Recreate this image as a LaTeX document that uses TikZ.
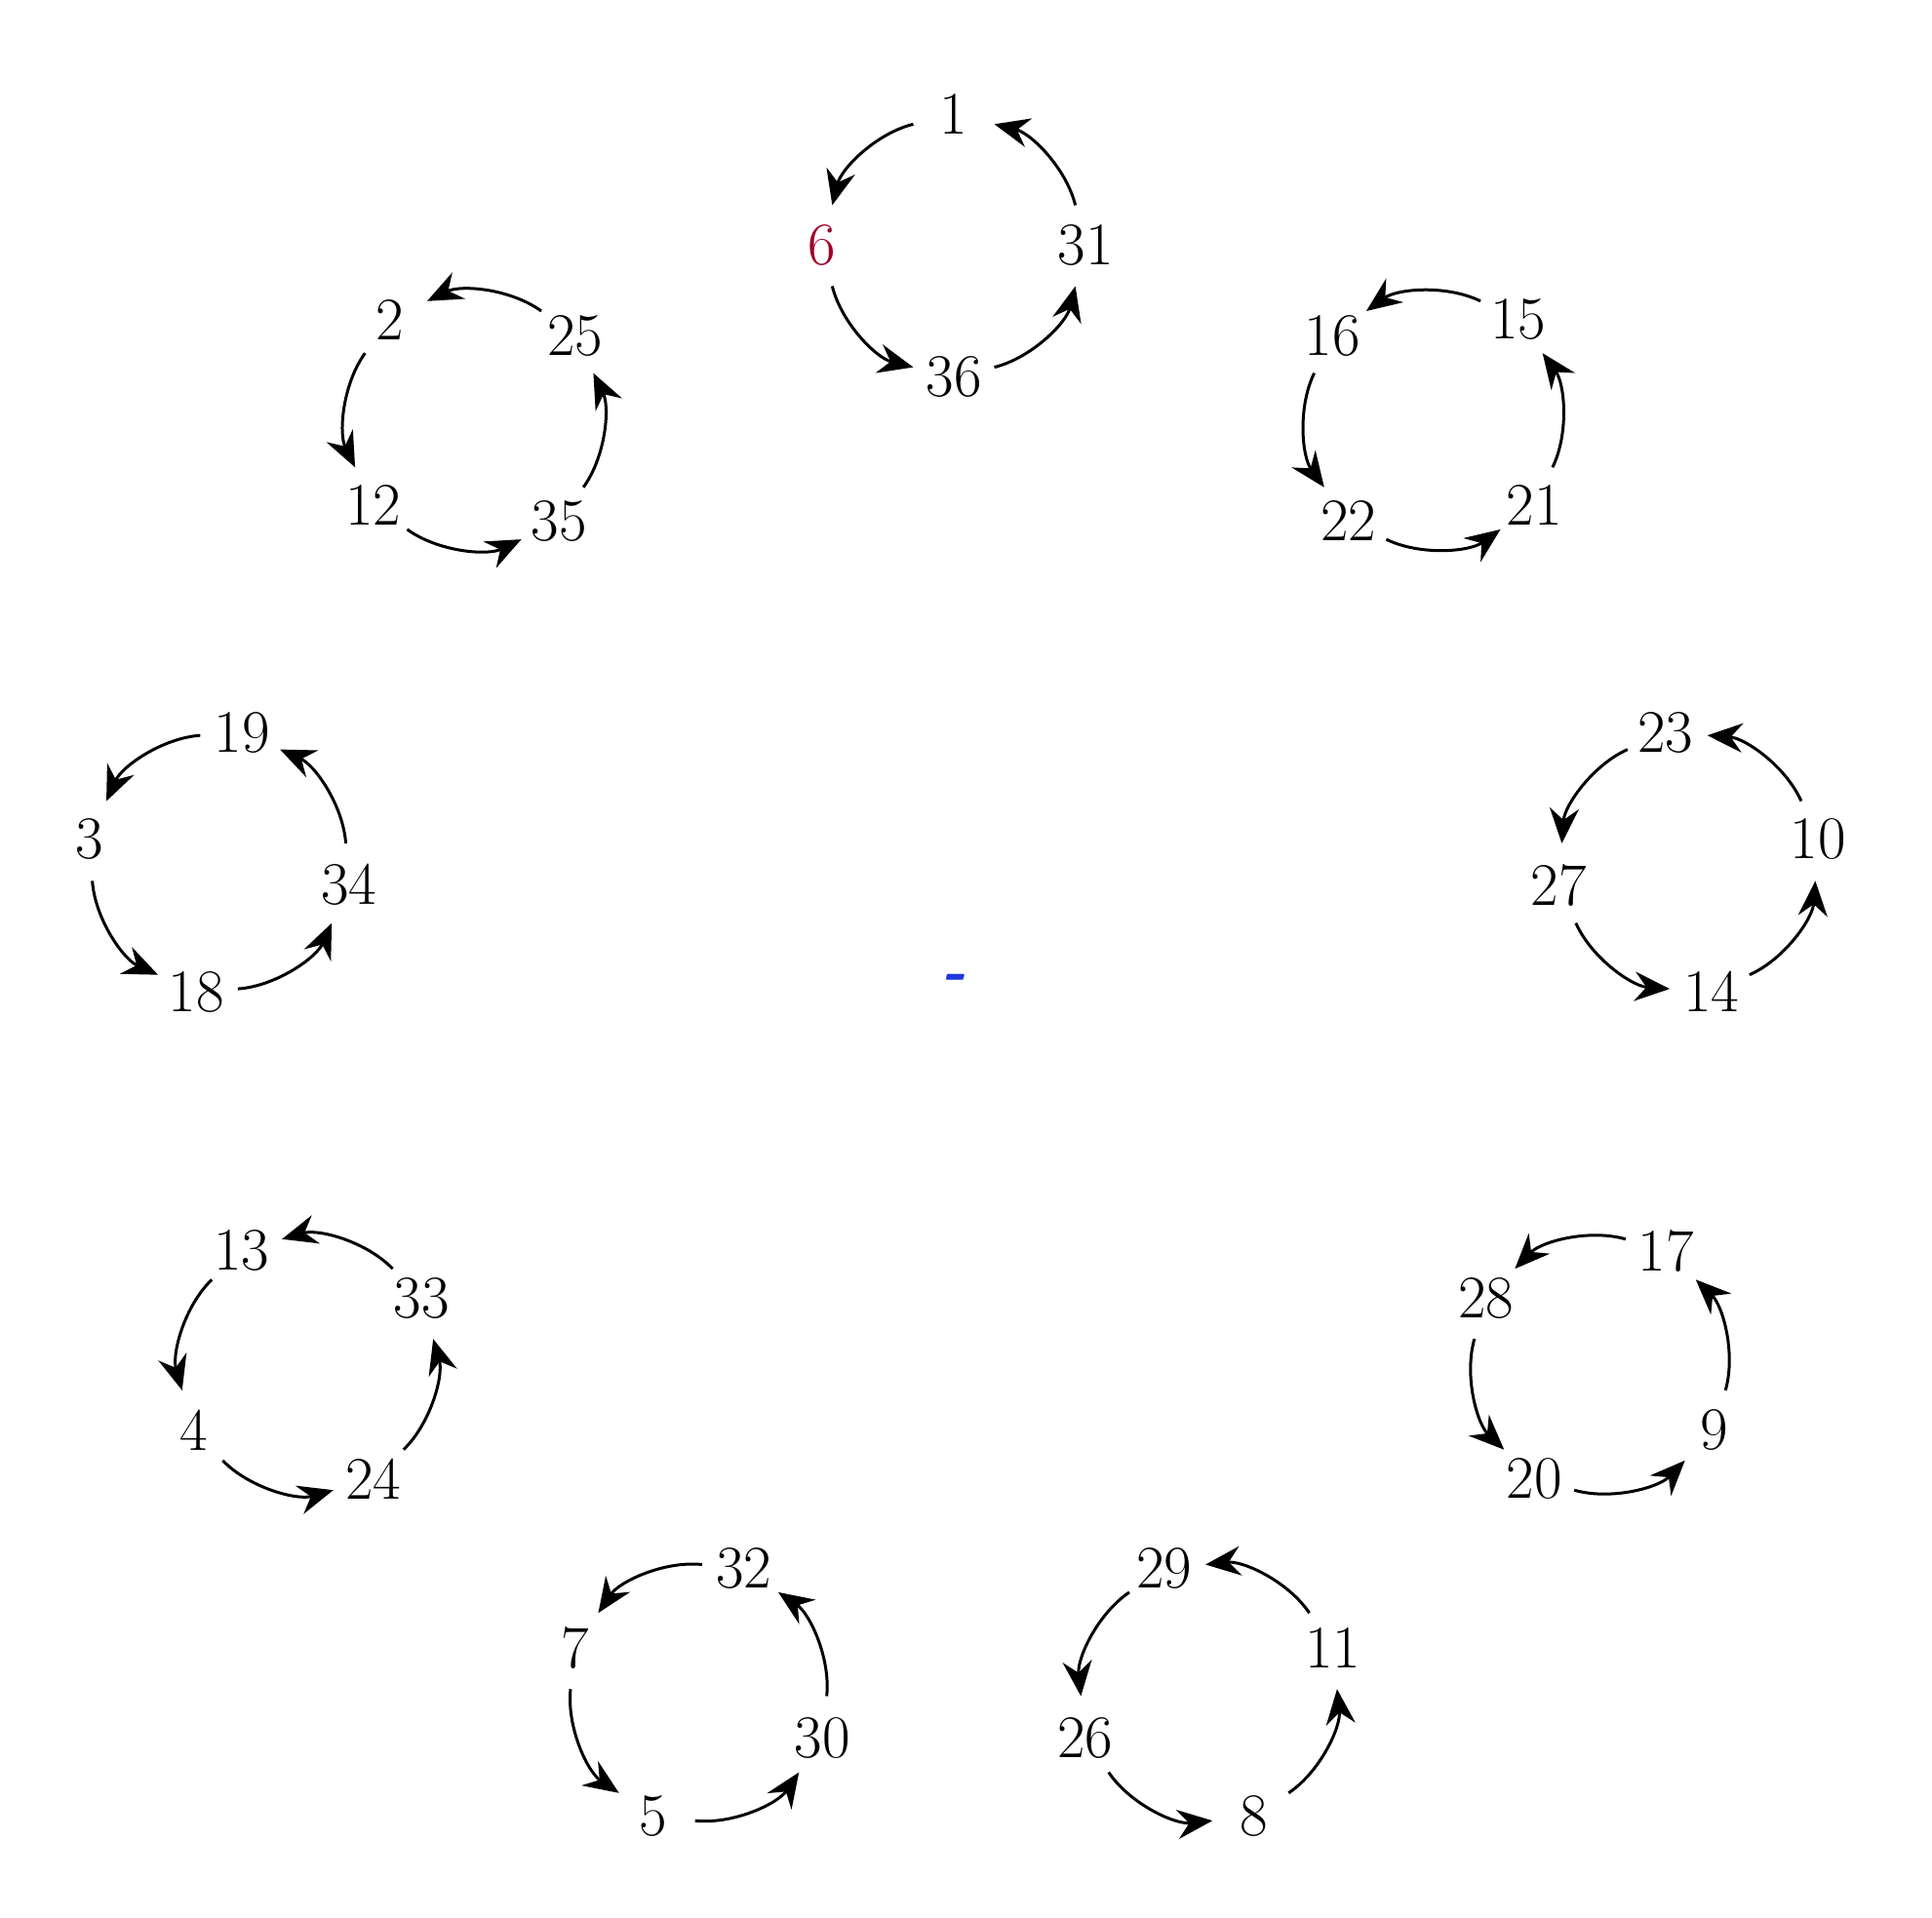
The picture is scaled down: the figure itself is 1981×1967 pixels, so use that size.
\documentclass[tikz,border=0pt]{standalone}
\usetikzlibrary{arrows.meta}
\definecolor{deepred}{RGB}{160,0,40}
\definecolor{markblue}{RGB}{32,56,224}
\begin{document}
\begin{tikzpicture}[x=0.25pt,y=0.25pt,
  num/.style={circle, inner sep=0pt, minimum size=21pt, font=\fontsize{15.5}{18}\selectfont},
  arr/.style={-{Stealth[length=9pt,width=7.5pt,inset=3pt]}, line width=0.75pt, bend right=31, looseness=0.85},
  n6/.style={text=deepred}]
\useasboundingbox (-978,-950) rectangle (1003,1017);
\foreach \t/\a/\b/\c/\d in {90/1/6/36/31, 130/2/12/35/25, 170/3/18/34/19,
  210/4/24/33/13, 250/5/30/32/7, 290/8/11/29/26, 330/9/17/28/20,
  10/10/23/27/14, 50/15/16/22/21}{
  \begin{scope}[shift={(\t:765)}]
    \node[num, n\a/.try] (n\a) at (\t:135) {\a};
    \node[num, n\b/.try] (n\b) at (\t+90:135) {\b};
    \node[num, n\c/.try] (n\c) at (\t+180:135) {\c};
    \node[num, n\d/.try] (n\d) at (\t+270:135) {\d};
  \end{scope}
  \draw[arr] (n\a) to (n\b);
  \draw[arr] (n\b) to (n\c);
  \draw[arr] (n\c) to (n\d);
  \draw[arr] (n\d) to (n\a);
}
\node[text=markblue, font=\fontsize{16}{18}\selectfont\bfseries\itshape] (mark) at (0,9) {-};
\end{tikzpicture}
\end{document}
